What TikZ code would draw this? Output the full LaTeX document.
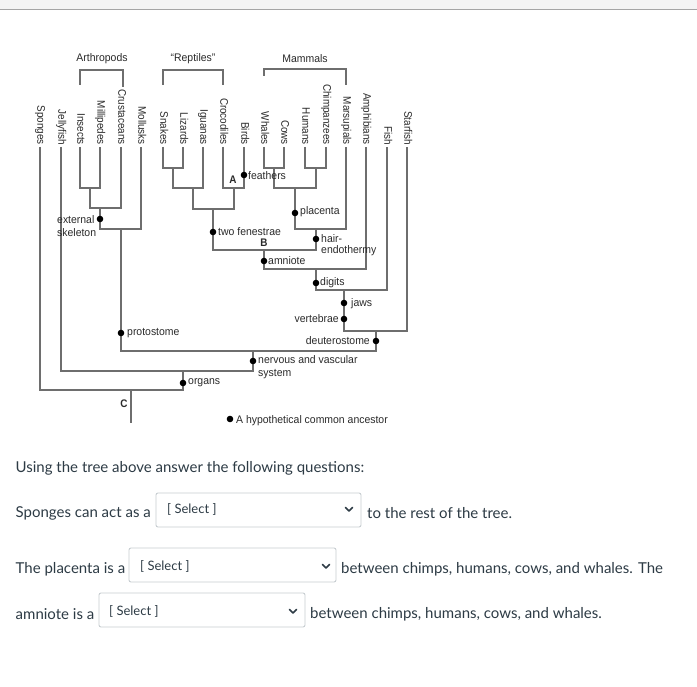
\documentclass[tikz,border=0pt]{standalone}
\usepackage{fontspec}
\setmainfont{Liberation Sans}
\newfontfamily\condfont[FakeStretch=0.9]{Liberation Sans}
\newfontfamily\labfont[FakeStretch=0.95]{Liberation Sans}
\newfontfamily\latofont{Lato}
\definecolor{treegray}{HTML}{6E6E6E}
\definecolor{treetext}{HTML}{2A2A2A}
\definecolor{canvastext}{HTML}{2D3B45}
\definecolor{boxgray}{HTML}{C7CDD1}
\definecolor{topbar}{HTML}{F4F4F4}
\definecolor{topline}{HTML}{A5A5A5}
\begin{document}
\begin{tikzpicture}[x=1pt,y=-1pt,
  edge/.style={draw=treegray,line width=1.2pt},
  leaf/.style={rotate=-90,anchor=mid east,inner sep=0pt,font=\condfont\fontsize{11}{12}\selectfont,text=treetext},
  lbl/.style={inner sep=0pt,font=\labfont\fontsize{11}{12}\selectfont,text=treetext},
  bold/.style={inner sep=0pt,font=\condfont\bfseries\fontsize{11}{12}\selectfont,text=treetext},
  qtext/.style={inner sep=0pt,anchor=west,font=\latofont\fontsize{15}{16}\selectfont,text=canvastext},
  seltext/.style={inner sep=0pt,anchor=west,font=\latofont\fontsize{13}{14}\selectfont,text=canvastext},
  selbox/.style={draw=boxgray,line width=0.9pt,rounded corners=2pt,fill=white},
  chev/.style={draw=canvastext,line width=1.6pt,line cap=round,line join=round}
]
\useasboundingbox (0,0) rectangle (697,687);
\fill[white] (0,0) rectangle (697,687);
% top bar
\fill[topbar] (0,0) rectangle (697,9);
\draw[topline,line width=1.4pt] (0,9.5) -- (697,9.5);

% leaves
\foreach \nm/\x in {Sponges/40,Jellyfish/61,Insects/80,Millipedes/100,Crustaceans/121,Mollusks/141,Snakes/163,Lizards/183,Iguanas/203,Crocodiles/223,Birds/244,Whales/264,Cows/284,Humans/305,Chimpanzees/326,Marsupials/346,Amphibians/366,Fish/387,Starfish/407}{
  \node[leaf] (\nm) at (\x,145) {\nm};
  \coordinate (t\nm) at (\x,147);
}

% group brackets
\node[lbl] (arth) at (102,59) {Arthropods};
\node[lbl] (rept) at (193,59) {\textquotedblleft Reptiles\textquotedblright};
\node[lbl] (mamm) at (305,59) {Mammals};
\draw[edge] (80,85) |- (123,70) -- (123,87);
\draw[edge] (163,85) |- (223,70) -- (223,85);
\draw[edge] (264,76) |- (346,69) -- (346,85);

% junctions
\coordinate (j1) at (90,188);
\coordinate (j2) at (100,208);
\coordinate (j3) at (121,229);
\coordinate (r1) at (173,168);
\coordinate (r2) at (193,188);
\coordinate (r3) at (234,188);
\coordinate (r4) at (213,209);
\coordinate (m1) at (274,168);
\coordinate (m2) at (316,168);
\coordinate (m3) at (295,188);
\coordinate (m4) at (316,229);
\coordinate (bj) at (264,250);
\coordinate (v1) at (316,269);
\coordinate (v2) at (344,290);
\coordinate (v3) at (376,331);
\coordinate (dj) at (253,351);
\coordinate (oj) at (183,371);
\coordinate (root) at (131,390);
\coordinate (base) at (131,423);

\draw[edge] (tInsects) |- (j1) -| (tMillipedes);
\draw[edge] (j1) |- (j2) -| (tCrustaceans);
\draw[edge] (j2) |- (j3) -| (tMollusks);
\draw[edge] (tSnakes) |- (r1) -| (tLizards);
\draw[edge] (r1) |- (r2) -| (tIguanas);
\draw[edge] (tCrocodiles) |- (r3) -| (tBirds);
\draw[edge] (r2) |- (r4) -| (r3);
\draw[edge] (tWhales) |- (m1) -| (tCows);
\draw[edge] (tHumans) |- (m2) -| (tChimpanzees);
\draw[edge] (m1) |- (m3) -| (m2);
\draw[edge] (m3) |- (m4) -| (tMarsupials);
\draw[edge] (r4) |- (bj) -| (m4);
\draw[edge] (bj) |- (v1) -| (tAmphibians);
\draw[edge] (v1) |- (v2) -| (tFish);
\draw[edge] (v2) |- (v3) -| (tStarfish);
\draw[edge] (j3) |- (dj) -| (v3);
\draw[edge] (tJellyfish) |- (oj) -| (dj);
\draw[edge] (tSponges) |- (root) -| (oj);
\draw[edge] (root) -- (base);

% ancestor dots
\foreach \p in {(244,175),(100,219),(213,232),(295,213),(316,239),(264,261),(316,283),(344,303),(344,319),(376,341),(121,333),(253,361),(183,383),(230,419)}
  \fill[black] \p circle (3.3);

% dot labels
\node[lbl,anchor=west] (feath) at (248,176) {feathers};
\node[lbl,anchor=west] (plac) at (300,212) {placenta};
\node[lbl,anchor=west] (fen) at (218,232) {two fenestrae};
\node[lbl,anchor=west,align=left,font=\labfont\fontsize{11}{11}\selectfont] (hair) at (321,245.5) {hair-\\endothermy};
\node[lbl,anchor=west] (amn) at (268,261) {amniote};
\node[lbl,anchor=west] (dig) at (320,283) {digits};
\node[lbl,anchor=west] (jaws) at (351,304) {jaws};
\node[lbl,anchor=east] (vert) at (339,319) {vertebrae};
\node[lbl,anchor=east] (deut) at (370,341) {deuterostome};
\node[lbl,anchor=west,align=left,font=\labfont\fontsize{11}{13}\selectfont] (nerv) at (258,367.5) {nervous and vascular\\system};
\node[lbl,anchor=west] (org) at (188,383) {organs};
\node[lbl,anchor=west] (prot) at (127,333) {protostome};
\node[lbl,anchor=west,align=left,font=\labfont\fontsize{11}{13}\selectfont] (ext) at (57,226) {external\\skeleton};
\node[bold] (A) at (233,180) {A};
\node[bold] (B) at (264,243) {B};
\node[bold] (C) at (124,404) {C};
\node[lbl,anchor=west] (legend) at (236,421) {A hypothetical common ancestor};

% questions
\node[qtext] (q0) at (15.5,468) {Using the tree above answer the following questions:};

\node[qtext] (q1a) at (15.5,513) {Sponges can act as a};
\draw[selbox] (156,493) rectangle (361,527);
\node[seltext] (s1) at (167,509) {[ Select ]};
\draw[chev] (345.5,507.5) -- (349,511) -- (352.5,507.5);
\node[qtext] (q1b) at (367,513) {to the rest of the tree.};

\node[qtext] (q2a) at (15.5,569) {The placenta is a};
\draw[selbox] (129,548) rectangle (336,582);
\node[seltext] (s2) at (140,566) {[ Select ]};
\draw[chev] (322.5,564.5) -- (326,568) -- (329.5,564.5);
\node[qtext] (q2b) at (341,569) {between chimps, humans, cows, and whales. The};

\node[qtext] (q3a) at (15.5,614) {amniote is a};
\draw[selbox] (99,593) rectangle (305,627);
\node[seltext] (s3) at (109,611) {[ Select ]};
\draw[chev] (289.5,609.5) -- (293,613) -- (296.5,609.5);
\node[qtext] (q3b) at (310,614) {between chimps, humans, cows, and whales.};
\end{tikzpicture}
\end{document}
